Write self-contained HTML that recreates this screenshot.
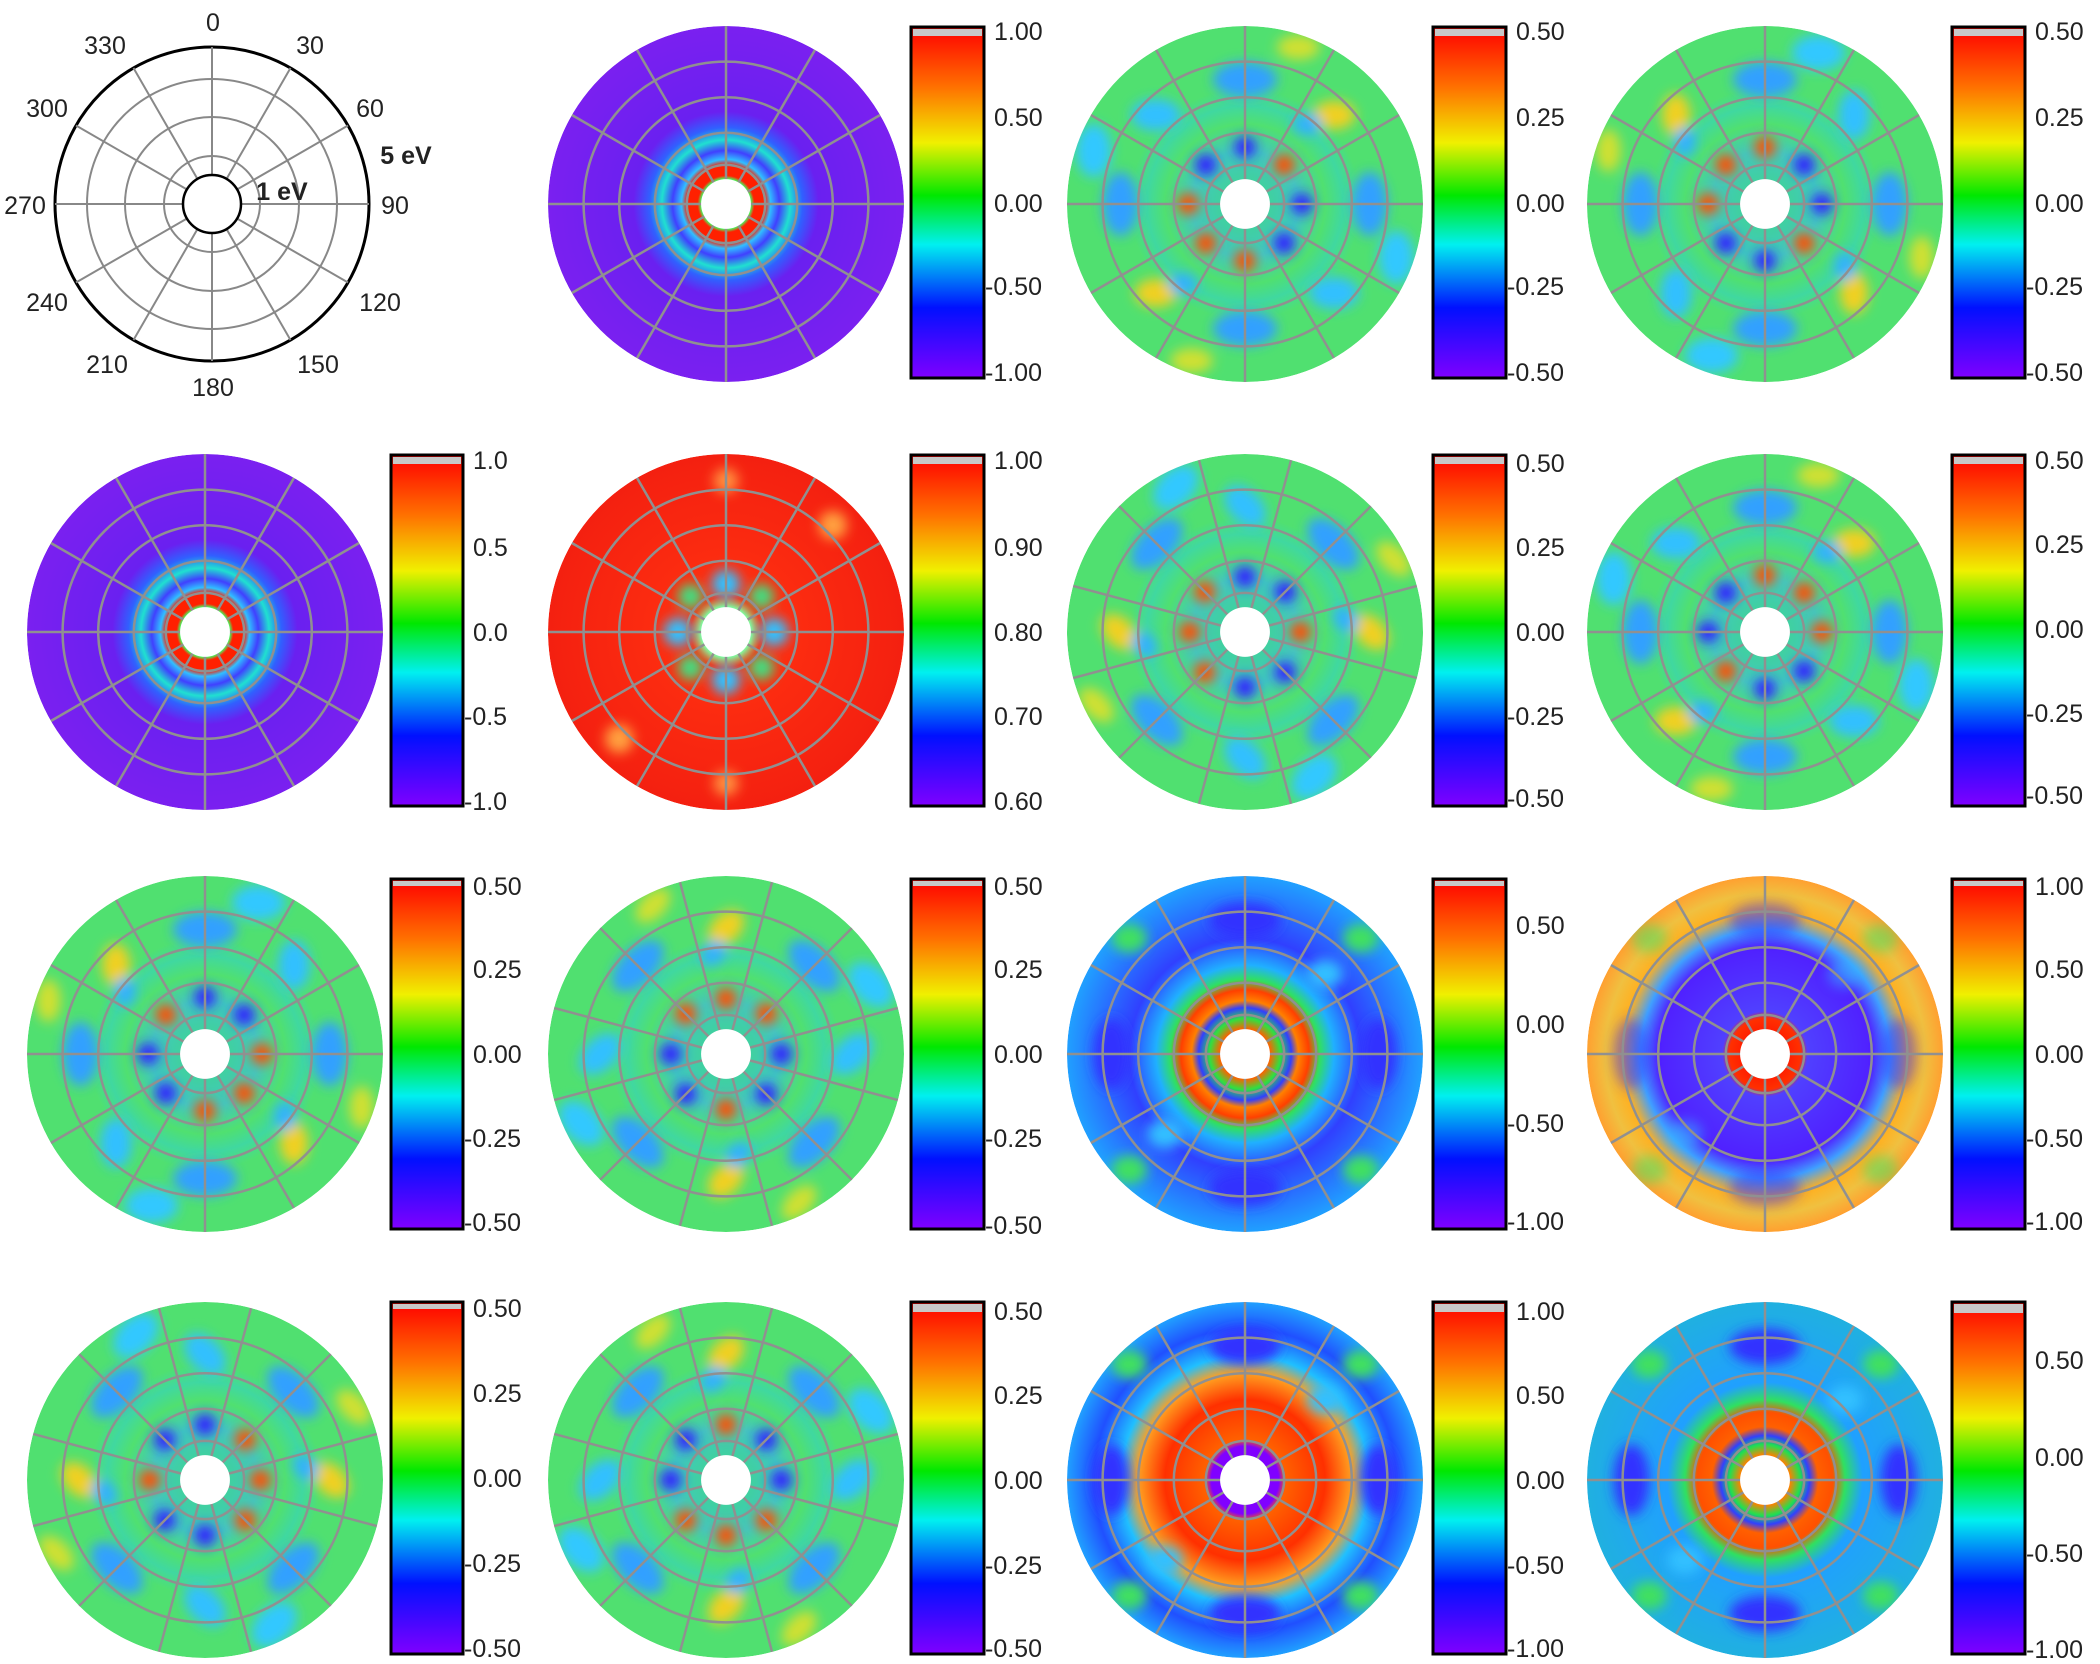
<!DOCTYPE html>
<html><head><meta charset="utf-8"><style>
html,body{margin:0;padding:0;background:#fff}
svg{display:block}
text{font-family:"Liberation Sans",sans-serif;font-size:25px;fill:#222}
</style></head><body>
<svg width="2100" height="1664" viewBox="0 0 2100 1664" xmlns="http://www.w3.org/2000/svg">
<defs>
<linearGradient id="cb" x1="0" y1="0" x2="0" y2="1">
<stop offset="0" stop-color="#ff0000"/><stop offset="0.17" stop-color="#ff7000"/><stop offset="0.33" stop-color="#f0f000"/><stop offset="0.48" stop-color="#00e800"/><stop offset="0.62" stop-color="#00f0f0"/><stop offset="0.8" stop-color="#0010ff"/><stop offset="1" stop-color="#8000ff"/>
</linearGradient>
<radialGradient id="g1" cx="0.5" cy="0.5" r="0.5">
<stop offset="0.14" stop-color="#40ff60"/><stop offset="0.16" stop-color="#ff2000"/><stop offset="0.22" stop-color="#ff2000"/><stop offset="0.25" stop-color="#30c0ff"/><stop offset="0.3" stop-color="#4040ff"/><stop offset="0.36" stop-color="#20e0d0"/><stop offset="0.43" stop-color="#3060ff"/><stop offset="0.52" stop-color="#6a20f0"/><stop offset="1" stop-color="#7a20f0"/>
</radialGradient>
<radialGradient id="g2" cx="0.5" cy="0.5" r="0.5">
<stop offset="0.14" stop-color="#80ffa0"/><stop offset="0.2" stop-color="#ff3010"/><stop offset="1" stop-color="#f42010"/>
</radialGradient>
<radialGradient id="g3" cx="0.5" cy="0.5" r="0.5">
<stop offset="0.14" stop-color="#40d0a0"/><stop offset="0.3" stop-color="#40c8c0"/><stop offset="0.45" stop-color="#50e070"/><stop offset="0.55" stop-color="#40d8a0"/><stop offset="0.65" stop-color="#50e070"/><stop offset="1" stop-color="#50e070"/>
</radialGradient>
<radialGradient id="g4" cx="0.5" cy="0.5" r="0.5">
<stop offset="0.14" stop-color="#ff6000"/><stop offset="0.2" stop-color="#30e040"/><stop offset="0.26" stop-color="#3040ff"/><stop offset="0.3" stop-color="#ff8000"/><stop offset="0.36" stop-color="#ff4000"/><stop offset="0.42" stop-color="#30e060"/><stop offset="0.5" stop-color="#20b0ff"/><stop offset="0.65" stop-color="#3040ff"/><stop offset="1" stop-color="#20a0ff"/>
</radialGradient>
<radialGradient id="g5" cx="0.5" cy="0.5" r="0.5">
<stop offset="0.14" stop-color="#ff2000"/><stop offset="0.2" stop-color="#ff3000"/><stop offset="0.24" stop-color="#5040ff"/><stop offset="0.6" stop-color="#5020ff"/><stop offset="0.7" stop-color="#40a0ff"/><stop offset="0.8" stop-color="#ffb020"/><stop offset="0.9" stop-color="#f0c040"/><stop offset="1" stop-color="#ffa030"/>
</radialGradient>
<radialGradient id="g6" cx="0.5" cy="0.5" r="0.5">
<stop offset="0.14" stop-color="#8000ff"/><stop offset="0.19" stop-color="#8000ff"/><stop offset="0.23" stop-color="#ff6000"/><stop offset="0.45" stop-color="#ff3000"/><stop offset="0.6" stop-color="#ffa020"/><stop offset="0.7" stop-color="#20c0ff"/><stop offset="0.85" stop-color="#2050ff"/><stop offset="1" stop-color="#20a0ff"/>
</radialGradient>
<radialGradient id="g7" cx="0.5" cy="0.5" r="0.5">
<stop offset="0.14" stop-color="#ff8000"/><stop offset="0.2" stop-color="#20e050"/><stop offset="0.25" stop-color="#3040ff"/><stop offset="0.3" stop-color="#ff6000"/><stop offset="0.38" stop-color="#ff5000"/><stop offset="0.45" stop-color="#30e060"/><stop offset="0.55" stop-color="#20a0ff"/><stop offset="1" stop-color="#20b0e0"/>
</radialGradient>
<filter id="bl" x="-0.2" y="-0.2" width="1.4" height="1.4"><feGaussianBlur stdDeviation="0.035"/></filter>
<clipPath id="cc"><circle r="1"/></clipPath>
<g id="grid" fill="none" stroke="#909090" stroke-width="2.5">
<circle r="0.22" vector-effect="non-scaling-stroke"/><circle r="0.4" vector-effect="non-scaling-stroke"/><circle r="0.6" vector-effect="non-scaling-stroke"/><circle r="0.8" vector-effect="non-scaling-stroke"/>
<path vector-effect="non-scaling-stroke" d="M0,-1V1M-1,0H1M0.5,-0.866L-0.5,0.866M0.866,-0.5L-0.866,0.5M0.5,0.866L-0.5,-0.866M0.866,0.5L-0.866,-0.5"/>
<circle r="0.14" fill="#fff" stroke="none"/>
</g>
<g id="bG" filter="url(#bl)">
<ellipse cx="0" cy="-0.7" rx="0.18" ry="0.1" fill="#30a0ff"/><ellipse cx="0" cy="0.7" rx="0.18" ry="0.1" fill="#30a0ff"/>
<ellipse cx="-0.7" cy="0" rx="0.1" ry="0.18" fill="#30a0ff"/><ellipse cx="0.7" cy="0" rx="0.1" ry="0.18" fill="#30a0ff"/>
<ellipse cx="0.5" cy="-0.5" rx="0.12" ry="0.08" fill="#f0d020"/><ellipse cx="-0.5" cy="0.5" rx="0.12" ry="0.08" fill="#f0d020"/>
<ellipse cx="-0.5" cy="-0.5" rx="0.14" ry="0.09" fill="#30c0ff"/><ellipse cx="0.5" cy="0.5" rx="0.14" ry="0.09" fill="#30c0ff"/>
<circle cx="0.22" cy="-0.22" r="0.06" fill="#ff5000"/><circle cx="-0.22" cy="0.22" r="0.06" fill="#ff5000"/>
<circle cx="-0.22" cy="-0.22" r="0.06" fill="#3020ff"/><circle cx="0.22" cy="0.22" r="0.06" fill="#3020ff"/>
<circle cx="0" cy="-0.32" r="0.06" fill="#3020ff"/><circle cx="0" cy="0.32" r="0.06" fill="#ff5000"/>
<circle cx="-0.32" cy="0" r="0.06" fill="#ff5000"/><circle cx="0.32" cy="0" r="0.06" fill="#3020ff"/>
<ellipse cx="-0.85" cy="-0.3" rx="0.1" ry="0.15" fill="#30c8ff"/><ellipse cx="0.85" cy="0.3" rx="0.1" ry="0.15" fill="#30c8ff"/>
<ellipse cx="0.3" cy="-0.88" rx="0.12" ry="0.07" fill="#d0e030"/><ellipse cx="-0.3" cy="0.88" rx="0.12" ry="0.07" fill="#d0e030"/>
<ellipse cx="0.35" cy="-0.45" rx="0.08" ry="0.06" fill="#30b0ff"/><ellipse cx="-0.35" cy="0.45" rx="0.08" ry="0.06" fill="#30b0ff"/>
</g>
<g id="bR" filter="url(#bl)">
<circle cx="0.27" cy="0" r="0.08" fill="#30c0ff"/><circle cx="-0.27" cy="0" r="0.08" fill="#30c0ff"/><circle cx="0" cy="0.27" r="0.08" fill="#30c0ff"/><circle cx="0" cy="-0.27" r="0.08" fill="#30c0ff"/>
<circle cx="0.2" cy="0.2" r="0.07" fill="#40e080"/><circle cx="-0.2" cy="0.2" r="0.07" fill="#40e080"/><circle cx="0.2" cy="-0.2" r="0.07" fill="#40e080"/><circle cx="-0.2" cy="-0.2" r="0.07" fill="#40e080"/>
<circle cx="0.6" cy="-0.6" r="0.08" fill="#ffa040"/><circle cx="-0.6" cy="0.6" r="0.08" fill="#ffa040"/>
<circle cx="0" cy="-0.85" r="0.07" fill="#ff9040"/><circle cx="0" cy="0.85" r="0.07" fill="#ff9040"/>
</g>
<g id="bB" filter="url(#bl)">
<ellipse cx="0" cy="-0.75" rx="0.2" ry="0.1" fill="#3030ff"/><ellipse cx="0" cy="0.75" rx="0.2" ry="0.1" fill="#3030ff"/>
<ellipse cx="-0.75" cy="0" rx="0.1" ry="0.2" fill="#3030ff"/><ellipse cx="0.75" cy="0" rx="0.1" ry="0.2" fill="#3030ff"/>
<ellipse cx="0.65" cy="-0.65" rx="0.1" ry="0.08" fill="#40e060"/><ellipse cx="-0.65" cy="0.65" rx="0.1" ry="0.08" fill="#40e060"/>
<ellipse cx="-0.65" cy="-0.65" rx="0.1" ry="0.08" fill="#40e060"/><ellipse cx="0.65" cy="0.65" rx="0.1" ry="0.08" fill="#40e060"/>
<ellipse cx="0.45" cy="-0.45" rx="0.1" ry="0.08" fill="#30c0ff"/><ellipse cx="-0.45" cy="0.45" rx="0.1" ry="0.08" fill="#30c0ff"/>
</g>
</defs>

<!-- polar axis reference -->
<g transform="translate(212,204)">
<circle r="157" fill="#fff" stroke="#000" stroke-width="3"/>
<g fill="none" stroke="#888" stroke-width="2">
<circle r="48"/><circle r="87"/><circle r="125"/>
<path d="M0,-157V-29M0,29V157M-157,0H-29M29,0H157M78.5,-136L14.5,-25M-78.5,136L-14.5,25M136,-78.5L25,-14.5M-136,78.5L-25,14.5M78.5,136L14.5,25M-78.5,-136L-14.5,-25M136,78.5L25,14.5M-136,-78.5L-25,-14.5"/>
</g>
<circle r="29" fill="none" stroke="#000" stroke-width="2.5"/>
</g>
<g text-anchor="middle">
<text x="213" y="31">0</text><text x="310" y="54">30</text><text x="370" y="117">60</text><text x="395" y="214">90</text><text x="380" y="311">120</text><text x="318" y="373">150</text><text x="213" y="396">180</text><text x="107" y="373">210</text><text x="47" y="311">240</text><text x="25" y="214">270</text><text x="47" y="117">300</text><text x="105" y="54">330</text>
<text x="406" y="164" style="font-weight:bold">5 eV</text><text x="282" y="200" style="font-weight:bold">1 eV</text>
</g>

<!-- discs -->
<g transform="translate(726,204) scale(178)" clip-path="url(#cc)"><circle r="1" fill="url(#g1)"/><use href="#grid"/></g>
<g transform="translate(1245,204) scale(178)" clip-path="url(#cc)"><circle r="1" fill="url(#g3)"/><use href="#bG"/><use href="#grid"/></g>
<g transform="translate(1765,204) scale(178) rotate(90)" clip-path="url(#cc)"><circle r="1" fill="url(#g3)"/><use href="#bG"/><use href="#grid"/></g>

<g transform="translate(205,632) scale(178)" clip-path="url(#cc)"><circle r="1" fill="url(#g1)"/><use href="#grid"/></g>
<g transform="translate(726,632) scale(178)" clip-path="url(#cc)"><circle r="1" fill="url(#g2)"/><use href="#bR"/><use href="#grid"/></g>
<g transform="translate(1245,632) scale(178) rotate(45)" clip-path="url(#cc)"><circle r="1" fill="url(#g3)"/><use href="#bG"/><use href="#grid"/></g>
<g transform="translate(1765,632) scale(178) rotate(180)" clip-path="url(#cc)"><circle r="1" fill="url(#g3)"/><use href="#bG"/><use href="#grid"/></g>

<g transform="translate(205,1054) scale(178) rotate(270)" clip-path="url(#cc)"><circle r="1" fill="url(#g3)"/><use href="#bG"/><use href="#grid"/></g>
<g transform="translate(726,1054) scale(178) rotate(135)" clip-path="url(#cc)"><circle r="1" fill="url(#g3)"/><use href="#bG"/><use href="#grid"/></g>
<g transform="translate(1245,1054) scale(178)" clip-path="url(#cc)"><circle r="1" fill="url(#g4)"/><use href="#bB"/><use href="#grid"/></g>
<g transform="translate(1765,1054) scale(178)" clip-path="url(#cc)"><circle r="1" fill="url(#g5)"/><use href="#bB" opacity="0.5"/><use href="#grid"/></g>

<g transform="translate(205,1480) scale(178) rotate(225)" clip-path="url(#cc)"><circle r="1" fill="url(#g3)"/><use href="#bG"/><use href="#grid"/></g>
<g transform="translate(726,1480) scale(178) rotate(315)" clip-path="url(#cc)"><circle r="1" fill="url(#g3)"/><use href="#bG"/><use href="#grid"/></g>
<g transform="translate(1245,1480) scale(178)" clip-path="url(#cc)"><circle r="1" fill="url(#g6)"/><use href="#bB"/><use href="#grid"/></g>
<g transform="translate(1765,1480) scale(178)" clip-path="url(#cc)"><circle r="1" fill="url(#g7)"/><use href="#bB"/><use href="#grid"/></g>

<!-- colorbars -->
<g stroke="#000" stroke-width="3">
<rect x="911" y="27" width="73" height="351" fill="url(#cb)"/>
<rect x="1433" y="27" width="73" height="351" fill="url(#cb)"/>
<rect x="1952" y="27" width="73" height="351" fill="url(#cb)"/>
<rect x="391" y="455" width="72" height="351" fill="url(#cb)"/>
<rect x="911" y="455" width="73" height="351" fill="url(#cb)"/>
<rect x="1433" y="455" width="73" height="351" fill="url(#cb)"/>
<rect x="1952" y="455" width="73" height="351" fill="url(#cb)"/>
<rect x="391" y="879" width="72" height="350" fill="url(#cb)"/>
<rect x="911" y="879" width="73" height="350" fill="url(#cb)"/>
<rect x="1433" y="879" width="73" height="350" fill="url(#cb)"/>
<rect x="1952" y="879" width="73" height="350" fill="url(#cb)"/>
<rect x="391" y="1302" width="72" height="352" fill="url(#cb)"/>
<rect x="911" y="1302" width="73" height="352" fill="url(#cb)"/>
<rect x="1433" y="1302" width="73" height="352" fill="url(#cb)"/>
<rect x="1952" y="1302" width="73" height="352" fill="url(#cb)"/>
</g>
<g fill="#c8c8c8">
<rect x="913" y="29" width="69" height="7"/><rect x="1435" y="29" width="69" height="7"/><rect x="1954" y="29" width="69" height="7"/>
<rect x="393" y="457" width="68" height="7"/><rect x="913" y="457" width="69" height="7"/><rect x="1435" y="457" width="69" height="7"/><rect x="1954" y="457" width="69" height="7"/>
<rect x="393" y="881" width="68" height="5"/><rect x="913" y="881" width="69" height="5"/><rect x="1435" y="881" width="69" height="5"/><rect x="1954" y="881" width="69" height="5"/>
<rect x="393" y="1304" width="68" height="5"/><rect x="913" y="1304" width="69" height="8"/><rect x="1435" y="1304" width="69" height="8"/><rect x="1954" y="1304" width="69" height="9"/>
</g>

<!-- colorbar labels -->
<g>
<text x="994" y="40">1.00</text><text x="994" y="126">0.50</text><text x="994" y="212">0.00</text><text x="985" y="295">-0.50</text><text x="985" y="381">-1.00</text>
<text x="1516" y="40">0.50</text><text x="1516" y="126">0.25</text><text x="1516" y="212">0.00</text><text x="1507" y="295">-0.25</text><text x="1507" y="381">-0.50</text>
<text x="2035" y="40">0.50</text><text x="2035" y="126">0.25</text><text x="2035" y="212">0.00</text><text x="2026" y="295">-0.25</text><text x="2026" y="381">-0.50</text>

<text x="473" y="469">1.0</text><text x="473" y="556">0.5</text><text x="473" y="641">0.0</text><text x="464" y="725">-0.5</text><text x="464" y="810">-1.0</text>
<text x="994" y="469">1.00</text><text x="994" y="556">0.90</text><text x="994" y="641">0.80</text><text x="994" y="725">0.70</text><text x="994" y="810">0.60</text>
<text x="1516" y="472">0.50</text><text x="1516" y="556">0.25</text><text x="1516" y="641">0.00</text><text x="1507" y="725">-0.25</text><text x="1507" y="807">-0.50</text>
<text x="2035" y="469">0.50</text><text x="2035" y="553">0.25</text><text x="2035" y="638">0.00</text><text x="2026" y="722">-0.25</text><text x="2026" y="804">-0.50</text>

<text x="473" y="895">0.50</text><text x="473" y="978">0.25</text><text x="473" y="1063">0.00</text><text x="464" y="1147">-0.25</text><text x="464" y="1231">-0.50</text>
<text x="994" y="895">0.50</text><text x="994" y="978">0.25</text><text x="994" y="1063">0.00</text><text x="985" y="1147">-0.25</text><text x="985" y="1234">-0.50</text>
<text x="1516" y="934">0.50</text><text x="1516" y="1033">0.00</text><text x="1507" y="1132">-0.50</text><text x="1507" y="1230">-1.00</text>
<text x="2035" y="895">1.00</text><text x="2035" y="978">0.50</text><text x="2035" y="1063">0.00</text><text x="2026" y="1147">-0.50</text><text x="2026" y="1230">-1.00</text>

<text x="473" y="1317">0.50</text><text x="473" y="1402">0.25</text><text x="473" y="1487">0.00</text><text x="464" y="1572">-0.25</text><text x="464" y="1657">-0.50</text>
<text x="994" y="1320">0.50</text><text x="994" y="1404">0.25</text><text x="994" y="1489">0.00</text><text x="985" y="1574">-0.25</text><text x="985" y="1657">-0.50</text>
<text x="1516" y="1320">1.00</text><text x="1516" y="1404">0.50</text><text x="1516" y="1489">0.00</text><text x="1507" y="1574">-0.50</text><text x="1507" y="1657">-1.00</text>
<text x="2035" y="1369">0.50</text><text x="2035" y="1466">0.00</text><text x="2026" y="1562">-0.50</text><text x="2026" y="1658">-1.00</text>
</g>
</svg>
</body></html>
